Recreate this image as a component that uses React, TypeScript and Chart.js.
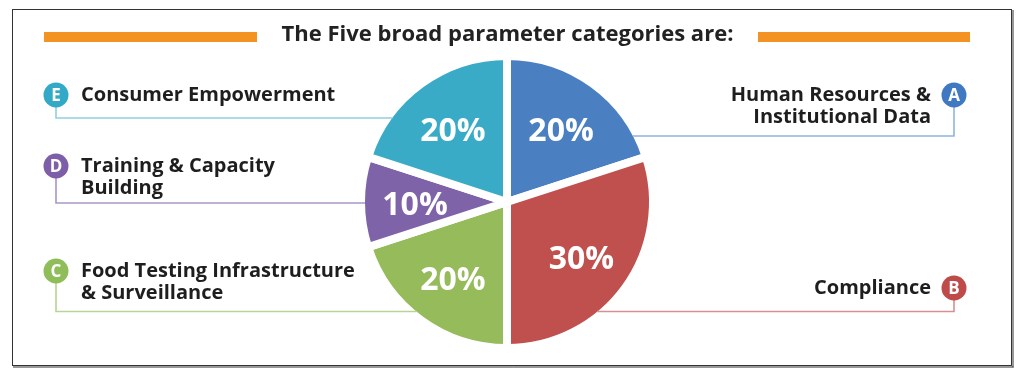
import React, { useEffect, useRef } from 'react';
import { Chart, registerables } from 'chart.js';

Chart.register(...registerables);

// ---- data ----
const titleText = 'The Five broad parameter categories are:';
const categories = [
  'Human Resources & Institutional Data',
  'Compliance',
  'Food Testing Infrastructure & Surveillance',
  'Training & Capacity Building',
  'Consumer Empowerment',
];
const letters = ['A', 'B', 'C', 'D', 'E'];
const shares = [20, 30, 20, 10, 20];
const labelLines = [
  ['Human Resources &', 'Institutional Data'],
  ['Compliance'],
  ['Food Testing Infrastructure', '& Surveillance'],
  ['Training & Capacity', 'Building'],
  ['Consumer Empowerment'],
];

// ---- styles ----
const sliceColors = ['#4a7fc1', '#c0504d', '#95bb5b', '#7f63a8', '#3aabc7'];
const badgeColors = ['#4079c2', '#bf4a4a', '#8fbd59', '#7c5ea9', '#32a9c6'];
const lineColors = ['#8fb4df', '#d98e8f', '#b6d592', '#a996ca', '#8fd0e0'];
const orange = '#f39322';

// ---- layout (annotation placement) ----
const side = ['right', 'right', 'left', 'left', 'left'];
const badgeX = [954, 954, 56, 56, 56];
const badgeY = [95, 288, 271, 166, 95];
const connectorY = [136, 311.5, 311.5, 203, 118];
const BORDER = 8;
const FONT = '"Open Sans", "DejaVu Sans", sans-serif';

const overlay = {
  id: 'overlay',
  beforeDatasetsDraw(chart: any) {
    const ctx = chart.ctx as CanvasRenderingContext2D;
    ctx.save();
    // outer frame
    ctx.strokeStyle = '#333';
    ctx.lineWidth = 1;
    ctx.strokeRect(12.5, 9.5, 999, 356);
    ctx.beginPath();
    ctx.moveTo(1013, 10);
    ctx.lineTo(1013, 367.5);
    ctx.moveTo(13, 367);
    ctx.lineTo(1013.5, 367);
    ctx.stroke();

    // orange bars + title
    ctx.fillStyle = orange;
    ctx.fillRect(44, 32, 213, 10);
    ctx.fillRect(758, 32, 212, 10);
    ctx.fillStyle = '#222';
    ctx.font = `bold 22px ${FONT}`;
    ctx.textAlign = 'center';
    ctx.textBaseline = 'middle';
    ctx.fillText(titleText, 507.5, 35);
    ctx.restore();
  },
  afterDatasetsDraw(chart: any) {
    const ctx = chart.ctx as CanvasRenderingContext2D;
    const meta = chart.getDatasetMeta(0);
    const first: any = meta.data[0];
    const cx = first.x;
    const cy = first.y;
    const r = first.outerRadius - BORDER / 2;
    ctx.save();

    // percent labels
    ctx.fillStyle = '#ffffff';
    ctx.font = `bold 32px ${FONT}`;
    ctx.textAlign = 'center';
    ctx.textBaseline = 'middle';
    meta.data.forEach((arc: any, i: number) => {
      const mid = (arc.startAngle + arc.endAngle) / 2;
      const rr = arc.outerRadius * 0.63;
      ctx.fillText(`${shares[i]}%`, arc.x + Math.cos(mid) * rr, arc.y + Math.sin(mid) * rr + 4);
    });

    // connectors
    categories.forEach((_, i) => {
      const y = connectorY[i];
      const dy = y - cy;
      const dx = Math.sqrt(Math.max(r * r - dy * dy, 0));
      const edgeX = side[i] === 'left' ? cx - dx : cx + dx;
      ctx.strokeStyle = lineColors[i];
      ctx.lineWidth = 1.6;
      ctx.beginPath();
      ctx.moveTo(badgeX[i], badgeY[i]);
      ctx.lineTo(badgeX[i], y);
      ctx.lineTo(edgeX, y);
      ctx.stroke();
    });

    // badges + labels
    categories.forEach((_, i) => {
      ctx.fillStyle = badgeColors[i];
      ctx.beginPath();
      ctx.arc(badgeX[i], badgeY[i], 12.5, 0, Math.PI * 2);
      ctx.fill();
      ctx.fillStyle = '#ffffff';
      ctx.font = `bold 17px ${FONT}`;
      ctx.textAlign = 'center';
      ctx.textBaseline = 'middle';
      ctx.fillText(letters[i], badgeX[i], badgeY[i] + 1);

      ctx.fillStyle = '#1e1e1e';
      ctx.font = `bold 20px ${FONT}`;
      const left = side[i] === 'left';
      ctx.textAlign = left ? 'left' : 'right';
      const tx = left ? badgeX[i] + 25 : badgeX[i] - 23;
      labelLines[i].forEach((line, j) => {
        ctx.fillText(line, tx, badgeY[i] + j * 22);
      });
    });
    ctx.restore();
  },
};

export default function App() {
  const ref = useRef<HTMLCanvasElement>(null);
  useEffect(() => {
    if (!ref.current) return;
    const chart = new Chart(ref.current, {
      type: 'pie',
      data: {
        labels: categories,
        datasets: [
          {
            data: shares,
            backgroundColor: sliceColors,
            borderColor: '#ffffff',
            borderWidth: BORDER,
            hoverBorderWidth: BORDER,
            borderAlign: 'center',
          },
        ],
      },
      options: {
        animation: false,
        responsive: true,
        maintainAspectRatio: false,
        layout: { padding: { top: 52, bottom: 24, left: 357, right: 365 } },
        plugins: { legend: { display: false }, tooltip: { enabled: false }, title: { display: false } },
      },
      plugins: [overlay],
    });
    return () => chart.destroy();
  }, []);
  return (
    <div style={{ position: 'fixed', left: 0, top: 0, width: 1022, height: 376, background: '#fff' }}>
      <canvas ref={ref} />
    </div>
  );
}
